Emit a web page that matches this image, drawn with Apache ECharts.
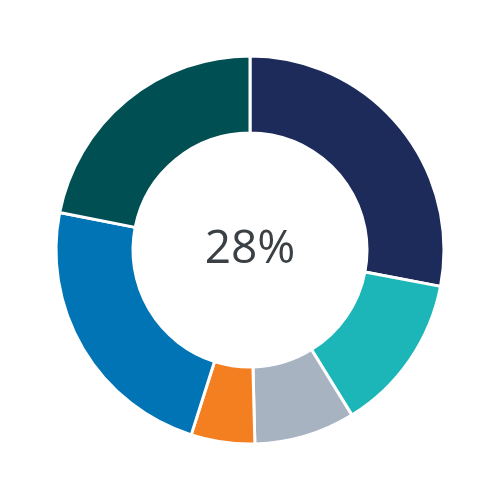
<!DOCTYPE html>
<html><head><meta charset="utf-8">
<script src="https://cdn.jsdelivr.net/npm/echarts@6/dist/echarts.min.js"></script>
<style>html,body{margin:0;padding:0;background:#fff}#c{width:500px;height:500px}</style>
</head><body><div id="c"></div>
<script>
const categories = ['A','B','C','D','E','F'];
const values = [28, 13.2, 8.4, 5.3, 23.2, 21.9];
const colors = ['#1c2b5a','#1cb5b8','#a8b3c2','#f47f20','#0074b5','#004f52'];
const centerLabel = '28%';
const chart = echarts.init(document.getElementById('c'));
chart.setOption({
  animation:false,
  graphic:[{type:'text',left:'center',top:'middle',style:{text:centerLabel,fontSize:46,fontFamily:'Open Sans',fill:'#3b4045'}}],
  series:[{
    type:'pie',center:[250,250],radius:[117,194],startAngle:90,clockwise:true,
    label:{show:false},labelLine:{show:false},silent:true,
    itemStyle:{borderColor:'#fff',borderWidth:3},
    data:categories.map((n,i)=>({name:n,value:values[i],itemStyle:{color:colors[i]}}))
  }]
});
</script></body></html>
